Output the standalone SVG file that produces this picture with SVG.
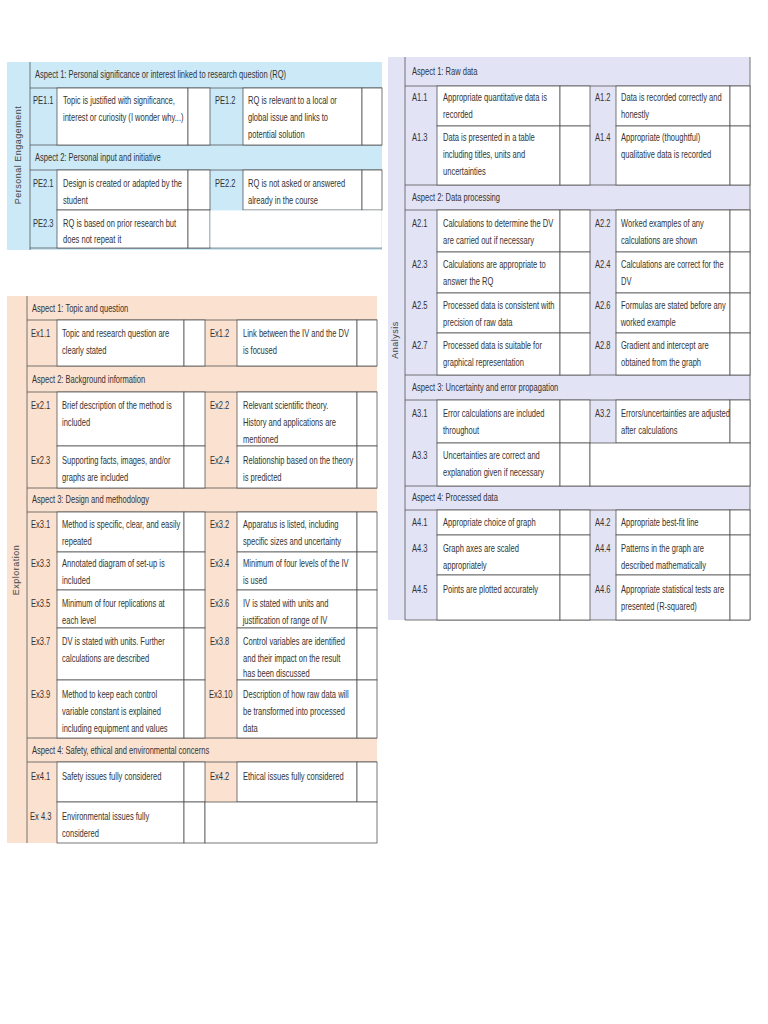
<svg xmlns="http://www.w3.org/2000/svg" width="768" height="1024" viewBox="0 0 768 1024">
<style>
text{font-family:"Liberation Sans",Arial,sans-serif;font-size:10.5px;fill:#333;transform-box:fill-box;transform-origin:0 0;transform:scaleX(0.72)}
.w{fill:#fff;stroke:#555;stroke-width:0.8}
.ln{stroke:#555;stroke-width:0.8}
text.side{font-size:9px;fill:#444;letter-spacing:0.5px;transform:none}
</style>
<rect width="768" height="1024" fill="#fff"/>
<g id="pe">
<rect x="7" y="62" width="375" height="188" fill="#cce9f8"/>
<line class="ln" x1="30" y1="62" x2="30" y2="250"/>
<line class="ln" x1="30" y1="88" x2="382" y2="88"/><line class="ln" x1="30" y1="145" x2="382" y2="145"/><line class="ln" x1="30" y1="170" x2="382" y2="170"/><line class="ln" x1="30" y1="248" x2="382" y2="248"/>
<rect class="w" x="57" y="88" width="131" height="57"/><rect class="w" x="188" y="88" width="22" height="57"/><rect class="w" x="243" y="88" width="119" height="57"/><rect class="w" x="362" y="88" width="20" height="57"/>
<rect class="w" x="57" y="170" width="131" height="40"/><rect class="w" x="188" y="170" width="22" height="40"/><rect class="w" x="243" y="170" width="119" height="40"/><rect class="w" x="362" y="170" width="20" height="40"/>
<rect class="w" x="57" y="210" width="131" height="38"/><rect class="w" x="188" y="210" width="22" height="38"/><rect fill="#fff" x="210.4" y="210.4" width="171" height="37"/>
<g transform="translate(21,155) rotate(-90)"><text class="side" x="0" y="0" text-anchor="middle">Personal Engagement</text></g>
<text x="35" y="78">Aspect 1: Personal significance or interest linked to research question (RQ)</text>
<text x="33" y="104">PE1.1</text><text x="63" y="104">Topic is justified with significance,</text><text x="63" y="121">interest or curiosity (I wonder why...)</text>
<text x="215" y="104">PE1.2</text><text x="248" y="104">RQ is relevant to a local or</text><text x="248" y="121">global issue and links to</text><text x="248" y="138">potential solution</text>
<text x="35" y="161">Aspect 2: Personal input and initiative</text>
<text x="33" y="187">PE2.1</text><text x="63" y="187">Design is created or adapted by the</text><text x="63" y="204">student</text>
<text x="215" y="187">PE2.2</text><text x="248" y="187">RQ is not asked or answered</text><text x="248" y="204">already in the course</text>
<text x="33" y="227">PE2.3</text><text x="63" y="227">RQ is based on prior research but</text><text x="63" y="243">does not repeat it</text>
</g>
<g id="exploration">
<rect x="7" y="296" width="370" height="547" fill="#fbe1d0"/>
<line class="ln" x1="27" y1="296" x2="27" y2="843"/>
<g class="ln"><line x1="27" y1="320" x2="377" y2="320"/><line x1="27" y1="366" x2="377" y2="366"/><line x1="27" y1="392" x2="377" y2="392"/><line x1="27" y1="488" x2="377" y2="488"/><line x1="27" y1="512" x2="377" y2="512"/><line x1="27" y1="738" x2="377" y2="738"/><line x1="27" y1="762" x2="377" y2="762"/></g>
<g>
<rect class="w" x="57" y="320" width="127" height="46"/><rect class="w" x="184" y="320" width="21" height="46"/><rect class="w" x="237" y="320" width="120" height="46"/><rect class="w" x="357" y="320" width="20" height="46"/>
<rect class="w" x="57" y="392" width="127" height="54"/><rect class="w" x="184" y="392" width="21" height="54"/><rect class="w" x="237" y="392" width="120" height="54"/><rect class="w" x="357" y="392" width="20" height="54"/>
<rect class="w" x="57" y="446" width="127" height="42"/><rect class="w" x="184" y="446" width="21" height="42"/><rect class="w" x="237" y="446" width="120" height="42"/><rect class="w" x="357" y="446" width="20" height="42"/>
<rect class="w" x="57" y="512" width="127" height="40"/><rect class="w" x="184" y="512" width="21" height="40"/><rect class="w" x="237" y="512" width="120" height="40"/><rect class="w" x="357" y="512" width="20" height="40"/>
<rect class="w" x="57" y="552" width="127" height="38"/><rect class="w" x="184" y="552" width="21" height="38"/><rect class="w" x="237" y="552" width="120" height="38"/><rect class="w" x="357" y="552" width="20" height="38"/>
<rect class="w" x="57" y="590" width="127" height="38"/><rect class="w" x="184" y="590" width="21" height="38"/><rect class="w" x="237" y="590" width="120" height="38"/><rect class="w" x="357" y="590" width="20" height="38"/>
<rect class="w" x="57" y="628" width="127" height="52"/><rect class="w" x="184" y="628" width="21" height="52"/><rect class="w" x="237" y="628" width="120" height="52"/><rect class="w" x="357" y="628" width="20" height="52"/>
<rect class="w" x="57" y="680" width="127" height="58"/><rect class="w" x="184" y="680" width="21" height="58"/><rect class="w" x="237" y="680" width="120" height="58"/><rect class="w" x="357" y="680" width="20" height="58"/>
<rect class="w" x="57" y="762" width="127" height="40"/><rect class="w" x="184" y="762" width="21" height="40"/><rect class="w" x="237" y="762" width="120" height="40"/><rect class="w" x="357" y="762" width="20" height="40"/>
<rect class="w" x="57" y="802" width="127" height="41"/><rect class="w" x="184" y="802" width="21" height="41"/><rect class="w" x="205" y="802" width="172" height="41"/>
</g>
<g transform="translate(19,570) rotate(-90)"><text class="side" x="0" y="0" text-anchor="middle">Exploration</text></g>
<text x="32" y="312">Aspect 1: Topic and question</text>
<text x="31" y="337">Ex1.1</text><text x="62" y="337">Topic and research question are</text><text x="62" y="354">clearly stated</text>
<text x="210" y="337">Ex1.2</text><text x="243" y="337">Link between the IV and the DV</text><text x="243" y="354">is focused</text>
<text x="32" y="383">Aspect 2: Background information</text>
<text x="31" y="409">Ex2.1</text><text x="62" y="409">Brief description of the method is</text><text x="62" y="426">included</text>
<text x="210" y="409">Ex2.2</text><text x="243" y="409">Relevant scientific theory.</text><text x="243" y="426">History and applications are</text><text x="243" y="443">mentioned</text>
<text x="31" y="464">Ex2.3</text><text x="62" y="464">Supporting facts, images, and/or</text><text x="62" y="481">graphs are included</text>
<text x="210" y="464">Ex2.4</text><text x="243" y="464">Relationship based on the theory</text><text x="243" y="481">is predicted</text>
<text x="32" y="503">Aspect 3: Design and methodology</text>
<text x="31" y="528">Ex3.1</text><text x="62" y="528">Method is specific, clear, and easily</text><text x="62" y="545">repeated</text>
<text x="210" y="528">Ex3.2</text><text x="243" y="528">Apparatus is listed, including</text><text x="243" y="545">specific sizes and uncertainty</text>
<text x="31" y="567">Ex3.3</text><text x="62" y="567">Annotated diagram of set-up is</text><text x="62" y="584">included</text>
<text x="210" y="567">Ex3.4</text><text x="243" y="567">Minimum of four levels of the IV</text><text x="243" y="584">is used</text>
<text x="31" y="607">Ex3.5</text><text x="62" y="607">Minimum of four replications at</text><text x="62" y="624">each level</text>
<text x="210" y="607">Ex3.6</text><text x="243" y="607">IV is stated with units and</text><text x="243" y="624">justification of range of IV</text>
<text x="31" y="645">Ex3.7</text><text x="62" y="645">DV is stated with units. Further</text><text x="62" y="662">calculations are described</text>
<text x="210" y="645">Ex3.8</text><text x="243" y="645">Control variables are identified</text><text x="243" y="662">and their impact on the result</text><text x="243" y="677">has been discussed</text>
<text x="31" y="698">Ex3.9</text><text x="62" y="698">Method to keep each control</text><text x="62" y="715">variable constant is explained</text><text x="62" y="732">including equipment and values</text>
<text x="209" y="698">Ex3.10</text><text x="243" y="698">Description of how raw data will</text><text x="243" y="715">be transformed into processed</text><text x="243" y="732">data</text>
<text x="32" y="754">Aspect 4: Safety, ethical and environmental concerns</text>
<text x="31" y="780">Ex4.1</text><text x="62" y="780">Safety issues fully considered</text>
<text x="210" y="780">Ex4.2</text><text x="243" y="780">Ethical issues fully considered</text>
<text x="30" y="820">Ex 4.3</text><text x="62" y="820">Environmental issues fully</text><text x="62" y="837">considered</text>
</g>
<g id="analysis">
<rect x="388" y="57" width="362" height="563" fill="#e3e3f6"/>
<line class="ln" x1="405" y1="57" x2="405" y2="620"/>
<line class="ln" x1="750" y1="57" x2="750" y2="620"/>
<g class="ln"><line x1="405" y1="86" x2="750" y2="86"/><line x1="405" y1="185" x2="750" y2="185"/><line x1="405" y1="210" x2="750" y2="210"/><line x1="405" y1="375" x2="750" y2="375"/><line x1="405" y1="400" x2="750" y2="400"/><line x1="405" y1="486" x2="750" y2="486"/><line x1="405" y1="510" x2="750" y2="510"/><line x1="405" y1="620" x2="750" y2="620"/></g>
<g>
<rect class="w" x="437" y="86" width="123" height="40"/><rect class="w" x="560" y="86" width="30" height="40"/><rect class="w" x="616" y="86" width="114" height="40"/><rect class="w" x="730" y="86" width="20" height="40"/>
<rect class="w" x="437" y="126" width="123" height="59"/><rect class="w" x="560" y="126" width="30" height="59"/><rect class="w" x="616" y="126" width="114" height="59"/><rect class="w" x="730" y="126" width="20" height="59"/>
<rect class="w" x="437" y="210" width="123" height="42"/><rect class="w" x="560" y="210" width="30" height="42"/><rect class="w" x="616" y="210" width="114" height="42"/><rect class="w" x="730" y="210" width="20" height="42"/>
<rect class="w" x="437" y="252" width="123" height="41"/><rect class="w" x="560" y="252" width="30" height="41"/><rect class="w" x="616" y="252" width="114" height="41"/><rect class="w" x="730" y="252" width="20" height="41"/>
<rect class="w" x="437" y="293" width="123" height="40"/><rect class="w" x="560" y="293" width="30" height="40"/><rect class="w" x="616" y="293" width="114" height="40"/><rect class="w" x="730" y="293" width="20" height="40"/>
<rect class="w" x="437" y="333" width="123" height="42"/><rect class="w" x="560" y="333" width="30" height="42"/><rect class="w" x="616" y="333" width="114" height="42"/><rect class="w" x="730" y="333" width="20" height="42"/>
<rect class="w" x="437" y="400" width="123" height="43"/><rect class="w" x="560" y="400" width="30" height="43"/><rect class="w" x="616" y="400" width="114" height="43"/><rect class="w" x="730" y="400" width="20" height="43"/>
<rect class="w" x="437" y="443" width="123" height="43"/><rect class="w" x="560" y="443" width="30" height="43"/><rect class="w" x="590" y="443" width="160" height="43"/>
<rect class="w" x="437" y="510" width="123" height="25"/><rect class="w" x="560" y="510" width="30" height="25"/><rect class="w" x="616" y="510" width="114" height="25"/><rect class="w" x="730" y="510" width="20" height="25"/>
<rect class="w" x="437" y="535" width="123" height="40"/><rect class="w" x="560" y="535" width="30" height="40"/><rect class="w" x="616" y="535" width="114" height="40"/><rect class="w" x="730" y="535" width="20" height="40"/>
<rect class="w" x="437" y="575" width="123" height="45"/><rect class="w" x="560" y="575" width="30" height="45"/><rect class="w" x="616" y="575" width="114" height="45"/><rect class="w" x="730" y="575" width="20" height="45"/>
</g>
<g transform="translate(398,340) rotate(-90)"><text class="side" x="0" y="0" text-anchor="middle">Analysis</text></g>
<text x="412" y="75">Aspect 1: Raw data</text>
<text x="412" y="101">A1.1</text><text x="443" y="101">Appropriate quantitative data is</text><text x="443" y="118">recorded</text>
<text x="595" y="101">A1.2</text><text x="621" y="101">Data is recorded correctly and</text><text x="621" y="118">honestly</text>
<text x="412" y="141">A1.3</text><text x="443" y="141">Data is presented in a table</text><text x="443" y="158">including titles, units and</text><text x="443" y="175">uncertainties</text>
<text x="595" y="141">A1.4</text><text x="621" y="141">Appropriate (thoughtful)</text><text x="621" y="158">qualitative data is recorded</text>
<text x="412" y="201">Aspect 2: Data processing</text>
<text x="412" y="227">A2.1</text><text x="443" y="227">Calculations to determine the DV</text><text x="443" y="244">are carried out if necessary</text>
<text x="595" y="227">A2.2</text><text x="621" y="227">Worked examples of any</text><text x="621" y="244">calculations are shown</text>
<text x="412" y="268">A2.3</text><text x="443" y="268">Calculations are appropriate to</text><text x="443" y="285">answer the RQ</text>
<text x="595" y="268">A2.4</text><text x="621" y="268">Calculations are correct for the</text><text x="621" y="285">DV</text>
<text x="412" y="309">A2.5</text><text x="443" y="309">Processed data is consistent with</text><text x="443" y="326">precision of raw data</text>
<text x="595" y="309">A2.6</text><text x="621" y="309">Formulas are stated before any</text><text x="621" y="326">worked example</text>
<text x="412" y="349">A2.7</text><text x="443" y="349">Processed data is suitable for</text><text x="443" y="366">graphical representation</text>
<text x="595" y="349">A2.8</text><text x="621" y="349">Gradient and intercept are</text><text x="621" y="366">obtained from the graph</text>
<text x="412" y="391">Aspect 3: Uncertainty and error propagation</text>
<text x="412" y="417">A3.1</text><text x="443" y="417">Error calculations are included</text><text x="443" y="434">throughout</text>
<text x="595" y="417">A3.2</text><text x="621" y="417">Errors/uncertainties are adjusted</text><text x="621" y="434">after calculations</text>
<text x="412" y="459">A3.3</text><text x="443" y="459">Uncertainties are correct and</text><text x="443" y="476">explanation given if necessary</text>
<text x="412" y="501">Aspect 4: Processed data</text>
<text x="412" y="526">A4.1</text><text x="443" y="526">Appropriate choice of graph</text>
<text x="595" y="526">A4.2</text><text x="621" y="526">Appropriate best-fit line</text>
<text x="412" y="552">A4.3</text><text x="443" y="552">Graph axes are scaled</text><text x="443" y="569">appropriately</text>
<text x="595" y="552">A4.4</text><text x="621" y="552">Patterns in the graph are</text><text x="621" y="569">described mathematically</text>
<text x="412" y="593">A4.5</text><text x="443" y="593">Points are plotted accurately</text>
<text x="595" y="593">A4.6</text><text x="621" y="593">Appropriate statistical tests are</text><text x="621" y="610">presented (R-squared)</text>
</g>
</svg>
